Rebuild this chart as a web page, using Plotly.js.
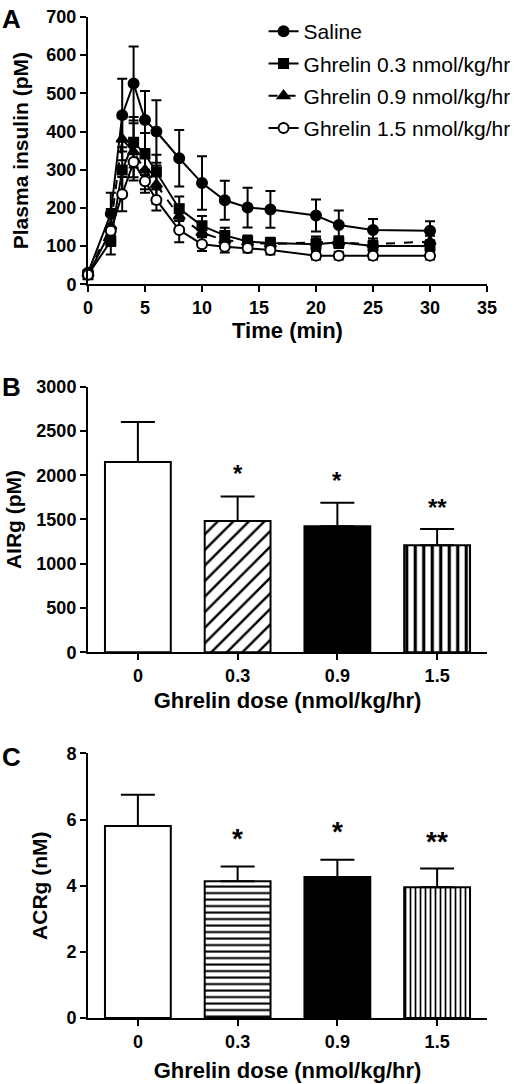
<!DOCTYPE html>
<html>
<head>
<meta charset="utf-8">
<script src="https://cdn.plot.ly/plotly-3.0.1.min.js"></script>
<style>
html,body{margin:0;padding:0;background:#fff;overflow:hidden;}
#chart{width:520px;height:1084px;}
</style>
</head>
<body>
<div id="chart"></div>
<script>
// ---------- Panel A data ----------
var time = [0, 2, 3, 4, 5, 6, 8, 10, 12, 14, 16, 20, 22, 25, 30];
var saline    = [30, 185, 443, 526, 430, 400, 330, 265, 220, 201, 196, 180, 155, 142, 140];
var salineErr = [8, 55, 95, 97, 76, 82, 74, 70, 51, 52, 48, 42, 38, 29, 25];
var g03       = [25, 113, 299, 372, 341, 294, 198, 153, 128, 112, 108, 105, 110, 100, 100];
var g03Err    = [8, 35, 60, 66, 55, 45, 32, 26, 20, 16, 14, 15, 15, 14, 14];
var g09       = [28, 152, 380, 347, 299, 261, 178, 135, 115, 110, 105, 110, 110, 105, 112];
var g09Err    = [8, 45, 55, 75, 50, 50, 30, 25, 20, 15, 15, 15, 15, 15, 15];
var g15       = [25, 140, 236, 320, 270, 221, 142, 105, 98, 95, 90, 75, 75, 75, 75];
var g15Err    = [8, 40, 45, 40, 30, 28, 32, 18, 15, 12, 12, 10, 10, 10, 10];
var seriesNames = ["Saline", "Ghrelin 0.3 nmol/kg/hr", "Ghrelin 0.9 nmol/kg/hr", "Ghrelin 1.5 nmol/kg/hr"];

// ---------- Panel B / C data ----------
var doses = ["0", "0.3", "0.9", "1.5"];
var airg    = [2150, 1483, 1423, 1208];
var airgErr = [450, 278, 267, 184];
var airgSig = ["", "*", "*", "**"];
var acrg    = [5.80, 4.13, 4.26, 3.95];
var acrgErr = [0.95, 0.45, 0.52, 0.57];
var acrgSig = ["", "*", "*", "**"];

var FONT = "Liberation Sans, Arial, sans-serif";
var BLACK = "#000";

function lineTrace(y, err, name, symbol, filled, dash, group) {
  return {
    type: "scatter", mode: "lines+markers",
    x: time, y: y, name: name, legendgroup: group,
    xaxis: "x", yaxis: "y", cliponaxis: false,
    line: {color: BLACK, width: 2, dash: dash},
    marker: {symbol: symbol, size: symbol === "square" ? 9 : 10,
             color: filled ? BLACK : "#fff",
             line: {color: BLACK, width: 2}},
    error_y: {type: "data", array: err, visible: true, color: BLACK, thickness: 2, width: 5}
  };
}

var traces = [
  lineTrace(saline, salineErr, seriesNames[0], "circle", true, "solid", "a"),
  lineTrace(g03, g03Err, seriesNames[1], "square", true, "solid", "b"),
  lineTrace(g09, g09Err, seriesNames[2], "triangle-up", true, "dash", "c"),
  lineTrace(g15, g15Err, seriesNames[3], "circle", false, "solid", "d")
];

// bar styles (per dose) for panels B and C
var barFill = ["#fff", "#fff", "#000", "#fff"];
var barShapeB = ["", "/", "", "|"];
var barSizeB = [8, 11, 8, 8.5];
var barSolB = [0.3, 0.22, 0.3, 0.38];
var barShapeC = ["", "-", "", "|"];
var barSizeC = [8, 6.5, 8, 5];
var barSolC = [0.3, 0.32, 0.3, 0.34];

function barTrace(i, vals, errs, shape, size, sol, xa, ya) {
  var m = {color: barFill[i], line: {color: BLACK, width: 2}};
  if (shape[i]) {
    m.pattern = {shape: shape[i], fgcolor: BLACK, bgcolor: "#fff", size: size[i], solidity: sol[i], fillmode: "replace"};
  }
  return {
    type: "bar", x: [doses[i]], y: [vals[i]], xaxis: xa, yaxis: ya, showlegend: false,
    width: 0.66, marker: m,
    error_y: {type: "data", symmetric: false, array: [errs[i]], arrayminus: [0],
              color: BLACK, thickness: 2, width: 17}
  };
}
for (var i = 0; i < doses.length; i++) {
  traces.push(barTrace(i, airg, airgErr, barShapeB, barSizeB, barSolB, "x2", "y2"));
}
for (var i = 0; i < doses.length; i++) {
  traces.push(barTrace(i, acrg, acrgErr, barShapeC, barSizeC, barSolC, "x3", "y3"));
}

var tickFont = {family: FONT, size: 18, color: BLACK, weight: "bold"};
var xTitleFont = {family: FONT, size: 22, color: BLACK, weight: "bold"};
var yTitleFont = {family: FONT, size: 21, color: BLACK, weight: "bold"};

function axisBase(extra) {
  var a = {
    showline: true, linecolor: BLACK, linewidth: 2,
    ticks: "outside", ticklen: 6, tickwidth: 2, tickcolor: BLACK,
    showgrid: false, zeroline: false, tickfont: tickFont, automargin: false,
    fixedrange: true
  };
  for (var k in extra) a[k] = extra[k];
  return a;
}

var annotations = [
  {text: "<b>A</b>", xref: "paper", yref: "paper", x: -0.2207, y: 1.0147, xanchor: "left", yanchor: "top",
   showarrow: false, font: {family: FONT, size: 26, color: BLACK}},
  {text: "<b>B</b>", xref: "paper", yref: "paper", x: -0.2207, y: 0.6473, xanchor: "left", yanchor: "top",
   showarrow: false, font: {family: FONT, size: 26, color: BLACK}},
  {text: "<b>C</b>", xref: "paper", yref: "paper", x: -0.2207, y: 0.2779, xanchor: "left", yanchor: "top",
   showarrow: false, font: {family: FONT, size: 26, color: BLACK}}
];
var bStarY = [0, 2020, 1940, 1640];
var cStarY = [0, 5.42, 5.63, 5.34];
for (var i = 0; i < doses.length; i++) {
  if (airgSig[i]) annotations.push({text: "<b>" + airgSig[i] + "</b>", xref: "x2", yref: "y2", x: i, y: bStarY[i],
    showarrow: false, font: {family: FONT, size: 24, color: BLACK}});
  if (acrgSig[i]) annotations.push({text: "<b>" + acrgSig[i] + "</b>", xref: "x3", yref: "y3", x: i, y: cStarY[i],
    showarrow: false, font: {family: FONT, size: 28, color: BLACK}});
}

var layout = {
  width: 520, height: 1084,
  margin: {l: 88, r: 33, t: 17, b: 66, autoexpand: false},
  paper_bgcolor: "#fff", plot_bgcolor: "#fff",
  font: {family: FONT, color: BLACK},
  showlegend: true, barmode: "overlay",
  legend: {x: 0.44, y: 1.006, xanchor: "left", yanchor: "top", bgcolor: "rgba(0,0,0,0)",
           font: {family: FONT, size: 21, color: BLACK}, tracegroupgap: 2, itemwidth: 30},
  xaxis: axisBase({domain: [0, 1], anchor: "y", range: [0, 35], tickvals: [0, 5, 10, 15, 20, 25, 30, 35],
    title: {text: "Time (min)", font: xTitleFont, standoff: 6}}),
  yaxis: axisBase({domain: [0.733, 1.0], anchor: "x", range: [0, 700], tickvals: [0, 100, 200, 300, 400, 500, 600, 700],
    title: {text: "Plasma insulin (pM)", font: yTitleFont, standoff: 12}}),
  xaxis2: axisBase({domain: [0, 1], anchor: "y2", type: "category", range: [-0.5, 3.5],
    categoryorder: "array", categoryarray: doses,
    title: {text: "Ghrelin dose (nmol/kg/hr)", font: xTitleFont, standoff: 8}}),
  yaxis2: axisBase({domain: [0.3653, 0.6307], anchor: "x2", range: [0, 3000], tickvals: [0, 500, 1000, 1500, 2000, 2500, 3000],
    title: {text: "AIRg (pM)", font: yTitleFont, standoff: 9}}),
  xaxis3: axisBase({domain: [0, 1], anchor: "y3", type: "category", range: [-0.5, 3.5],
    categoryorder: "array", categoryarray: doses,
    title: {text: "Ghrelin dose (nmol/kg/hr)", font: xTitleFont, standoff: 12}}),
  yaxis3: axisBase({domain: [0, 0.2644], anchor: "x3", range: [0, 8], tickvals: [0, 2, 4, 6, 8],
    title: {text: "ACRg (nM)", font: yTitleFont, standoff: 13}}),
  annotations: annotations
};

Plotly.newPlot("chart", traces, layout, {displayModeBar: false, staticPlot: true});
</script>
</body>
</html>
